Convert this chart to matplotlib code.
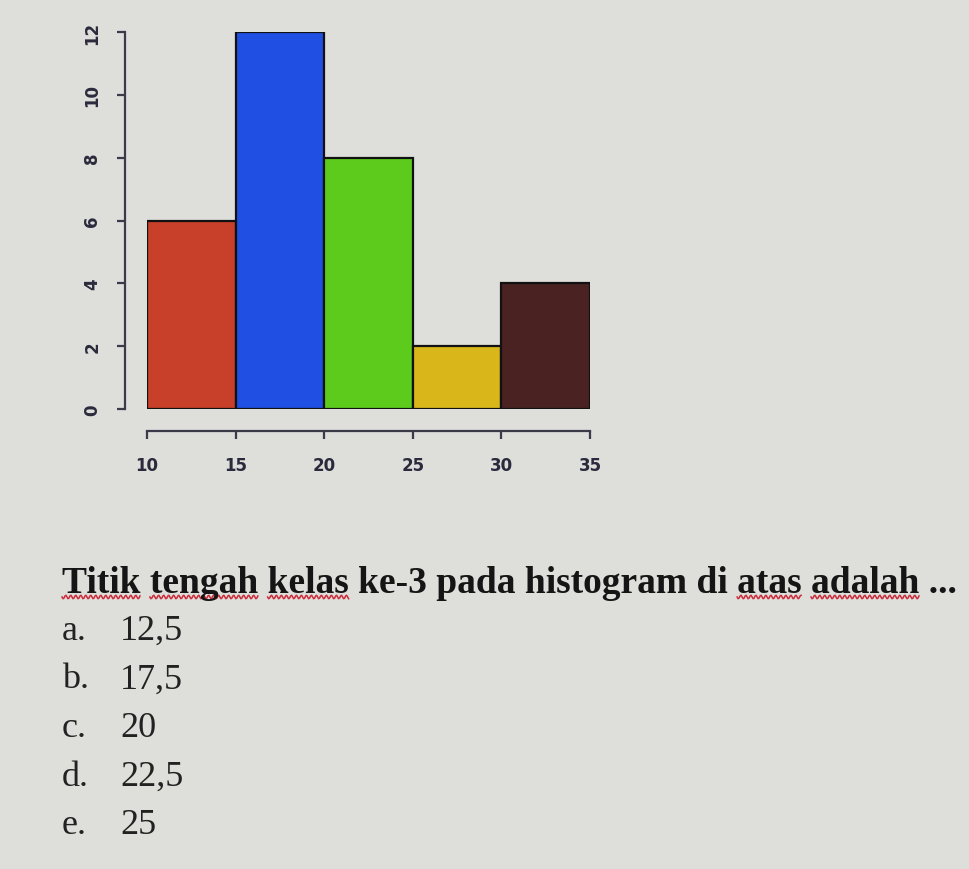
import matplotlib
matplotlib.use("Agg")
import matplotlib.pyplot as plt
from matplotlib.lines import Line2D
import numpy as np

# Data
bin_edges = [10, 15, 20, 25, 30, 35]
counts = [6, 12, 8, 2, 4]
bar_colors = ["#c83f2a", "#1f4fe3", "#5ccb1c", "#d9b71a", "#4a2222"]
y_ticks = [0, 2, 4, 6, 8, 10, 12]
x_ticks = [10, 15, 20, 25, 30, 35]
question = "Titik tengah kelas ke-3 pada histogram di atas adalah ..."
flagged_words = ["Titik", "tengah", "kelas", "atas", "adalah"]
options = ["a.", "b.", "c.", "d.", "e."]
option_values = ["12,5", "17,5", "20", "22,5", "25"]

W, H = 969, 870
fig = plt.figure(figsize=(W / 100, H / 100), dpi=100)
fig.patch.set_facecolor("#dededb")

ax = fig.add_axes([147 / W, 1 - 410 / H, (590 - 147) / W, (410 - 33) / H])
ax.set_facecolor("none")
lefts = bin_edges[:-1]
widths = np.diff(bin_edges)
ax.bar(lefts, counts, width=widths, align="edge", color=bar_colors,
       edgecolor="#111111", linewidth=1.6)
ax.set_xlim(10, 35)
ax.set_ylim(0, 12)
for s in ["top", "right"]:
    ax.spines[s].set_visible(False)
ax.spines["left"].set_position(("outward", 16))
ax.spines["bottom"].set_position(("outward", 16))
ax.spines["left"].set_bounds(0, 12)
ax.spines["bottom"].set_bounds(10, 35)
for s in ["left", "bottom"]:
    ax.spines[s].set_color("#3a3a4a")
    ax.spines[s].set_linewidth(1.6)
ax.set_yticks(y_ticks)
ax.set_xticks(x_ticks)
ax.tick_params(axis="both", length=6, width=1.6, color="#3a3a4a",
               labelcolor="#2a2a3c", labelsize=12)
ax.tick_params(axis="y", pad=11)
ax.tick_params(axis="x", pad=12)
for lab in ax.get_yticklabels():
    lab.set_rotation(90)
    lab.set_va("center")
    lab.set_fontweight("bold")
for lab in ax.get_xticklabels():
    lab.set_fontweight("bold")

qx, qy = 62, 593
qprops = dict(family="Liberation Serif", fontweight="bold", fontsize=27)
qt = fig.text(qx / W, 1 - qy / H, question, color="#151515", va="baseline", **qprops)

# spell-check style wavy underlines under flagged words
renderer = fig.canvas.get_renderer()
def text_width(s):
    t = fig.text(0, 0, s, **qprops)
    w = t.get_window_extent(renderer).width if s else 0.0
    t.remove()
    return w
words = question.split(" ")
pos = 0
for w in words:
    start = question.index(w, pos)
    pos = start + len(w)
    if w in flagged_words:
        x0 = qx + text_width(question[:start].rstrip() + " ") if start > 0 else qx
        x1 = qx + text_width(question[:pos])
        xs = np.arange(x0, x1, 1.0)
        ys = qy + 5 + 1.8 * np.sin((xs - x0) * np.pi / 2.5)
        fig.add_artist(Line2D(xs / W, 1 - ys / H, transform=fig.transFigure,
                              color="#cc2b3a", linewidth=1.1))

for i, (o, v) in enumerate(zip(options, option_values)):
    yb = 1 - (640 + i * 48.5) / H
    fig.text(62 / W, yb, o, family="Liberation Serif", fontsize=26,
             color="#222222", va="baseline")
    fig.text(120 / W, yb, v, family="Liberation Serif", fontsize=26,
             color="#222222", va="baseline")

fig.savefig("out.png", dpi=100, facecolor=fig.get_facecolor())
